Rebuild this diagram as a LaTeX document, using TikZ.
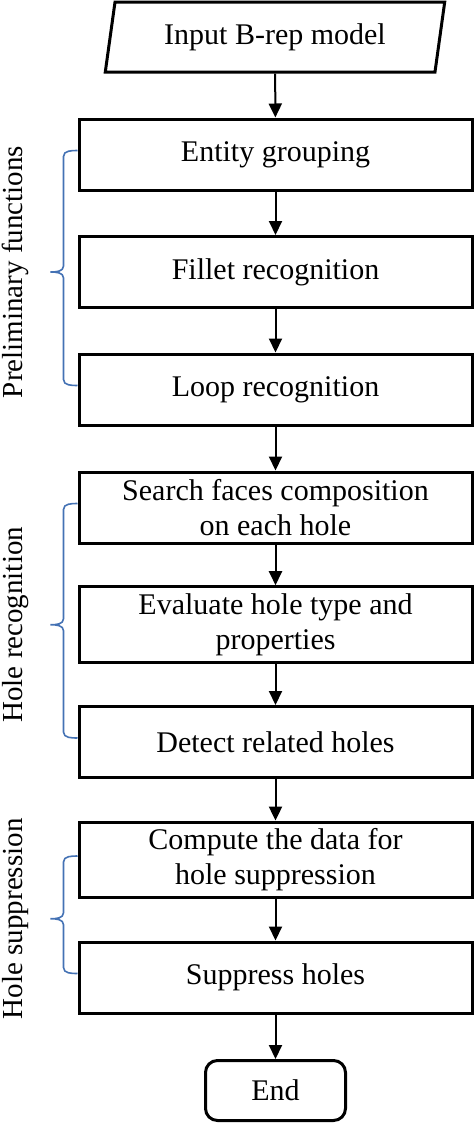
\documentclass[tikz,border=0pt]{standalone}
\usepackage{fontspec}
\setmainfont{Liberation Serif}
\usetikzlibrary{shapes.geometric, arrows.meta, calc}
\definecolor{braceblue}{RGB}{68,114,180}
\tikzset{
    txt/.style={font=\fontsize{15}{17.5}\selectfont},
    box/.style={draw, rectangle, txt, line width=1.5pt, minimum height=35.5pt, minimum width=196.5pt, align=center},
    io/.style={draw, trapezium, txt, trapezium left angle=80, trapezium right angle=100, trapezium stretches=true, line width=1.5pt, minimum height=35pt, minimum width=170pt},
    term/.style={draw, rectangle, txt, rounded corners=6pt, line width=1.5pt, minimum height=30pt, minimum width=70pt},
    arr/.style={line width=1pt, -{Triangle[length=7pt,width=6.5pt]}},
    brace/.style={draw=braceblue, line width=0.8pt},
    side/.style={font=\fontsize{14.5}{17}\selectfont, rotate=90}
}
\begin{document}
\begin{tikzpicture}[x=0.5pt, y=-0.5pt]
    \useasboundingbox (0,0) rectangle (474,1124);

    \node[io] (input) at (275,37) {Input B-rep model};
    \node[box] (ent) at (275.5,154.5) {Entity grouping};
    \node[box] (fillet) at (275.5,272) {Fillet recognition};
    \node[box] (loop) at (275.5,389.5) {Loop recognition};
    \node[box] (search) at (275.5,507.5) {Search faces composition\\on each hole};
    \node[box] (eval) at (275.5,624.5) {Evaluate hole type and\\properties};
    \node[box] (detect) at (275.5,742) {Detect related holes};
    \node[box] (comp) at (275.5,860) {Compute the data for\\hole suppression};
    \node[box] (supp) at (275.5,977.5) {Suppress holes};
    \node[term] (end) at (275.5,1090.5) {End};

    \draw[arr] (input) -- (ent);
    \draw[arr] (ent) -- (fillet);
    \draw[arr] (fillet) -- (loop);
    \draw[arr] (loop) -- (search);
    \draw[arr] (search) -- (eval);
    \draw[arr] (eval) -- (detect);
    \draw[arr] (detect) -- (comp);
    \draw[arr] (comp) -- (supp);
    \draw[arr] (supp) -- (end);

    % braces for the three stages
    \foreach \upper/\lower/\name in {ent/loop/Preliminary functions, search/detect/Hole recognition, comp/supp/Hole suppression}{
        \coordinate (mid) at ($(\upper.west)!0.5!(\lower.west)$);
        \draw[brace] ([yshift=2pt]\upper.west) to[out=180,in=90] ([xshift=-7pt,yshift=-1pt]\upper.west)
            -- ([xshift=-7pt,yshift=3pt]mid) to[out=-90,in=0] ([xshift=-13.5pt]mid)
            to[out=0,in=90] ([xshift=-7pt,yshift=-3pt]mid)
            -- ([xshift=-7pt,yshift=5pt]\lower.west) to[out=-90,in=180] ([yshift=2pt]\lower.west);
        \node[side] at ([xshift=-31pt]mid) {\name};
    }
\end{tikzpicture}
\end{document}
